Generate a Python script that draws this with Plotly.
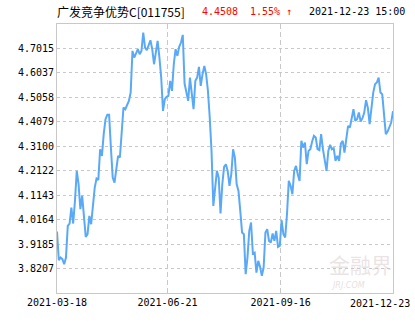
import plotly.graph_objects as go

# NAV values, one per trading day
nav = [
    3.9688, 3.8541, 3.8647, 3.8581, 3.8380, 3.8647, 3.9915, 4.0008, 4.0648, 4.0008,
    4.0915, 4.2116, 4.1582, 4.0582, 4.1115, 4.0115, 3.9474, 3.9581, 4.0315, 3.9981,
    4.0648, 4.1449, 4.1809, 4.1755, 4.2983, 4.2716, 4.3583, 4.4183, 4.4357, 4.4357,
    4.3049, 4.1849, 4.1649, 4.2249, 4.2716, 4.2649, 4.3583, 4.4650,
    4.4584, 4.4784, 4.4917, 4.5251, 4.6918, 4.6651, 4.6811, 4.6985, 4.6785, 4.6918,
    4.7652, 4.7051, 4.6945, 4.7185, 4.7345, 4.6985, 4.6384, 4.6851, 4.7318, 4.6651,
    4.5851, 4.4517, 4.4984, 4.5077, 4.5117, 4.5717, 4.5317, 4.6384, 4.6985,
    4.6718, 4.7078, 4.7252, 4.7558, 4.5611, 4.5317, 4.4917, 4.5851, 4.5117,
    4.4584,
    4.5717, 4.5851, 4.6278, 4.5517, 4.5984, 4.6318, 4.5984, 4.5317,
    4.4250, 4.2916, 4.0715, 4.1449, 4.2116, 4.1849, 4.0408, 4.1582, 4.2276, 4.2382,
    4.2116, 4.1515, 4.1982, 4.2983, 4.2649, 4.1582, 4.1315, 4.0515, 3.9648,
    3.9581, 3.7980, 3.8647, 3.9714, 4.0048, 3.8807, 3.8847,
    3.8047, 3.8514, 3.8274,
    3.7914, 3.8247, 3.9648, 3.9781, 3.9314, 3.9248, 3.9608, 3.9314, 3.9714, 3.9074,
    3.9114, 4.0141, 3.9581, 3.9448, 4.0381, 4.1715, 4.1515, 4.1182, 4.2116, 4.2316,
    4.1982, 4.1715, 4.3316, 4.3049, 4.3250, 4.2382, 4.2916, 4.2983,
    4.3290, 4.3516, 4.3450, 4.2983, 4.2943, 4.3583, 4.2983, 4.2583, 4.2116, 4.2916,
    4.3156,
    4.2983, 4.3023, 4.2516, 4.2716, 4.2516, 4.3210, 4.3316, 4.2849,
    4.3383, 4.3917, 4.3850, 4.4183, 4.4584, 4.4117, 4.4183, 4.4450, 4.4090, 4.4223,
    4.4450, 4.4944, 4.4650, 4.3983, 4.4650, 4.5251, 4.5584, 4.5651, 4.5851,
    4.5251, 4.5184, 4.4410, 4.3583, 4.3690, 4.3850, 4.4050, 4.4508,
]
days = list(range(len(nav)))

y_ticks = [3.8207, 3.9185, 4.0164, 4.1143, 4.2122, 4.3100, 4.4079, 4.5058, 4.6037, 4.7015]
y_range = [3.7228, 4.7994]
date_tick_pos = [0, 61.5, 124.5]
date_tick_text = ["2021-03-18", "2021-06-21", "2021-09-16"]
last_date = "2021-12-23"

title_name = "广发竞争优势C[011755]"
title_nav = "4.4508"
title_chg = "1.55% ↑"
title_time = "2021-12-23 15:00"

mono = "DejaVu Sans Mono"

fig = go.Figure()
fig.add_trace(go.Scatter(
    x=days, y=nav, mode="lines",
    line=dict(color="#5aa9f7", width=2),
    hoverinfo="skip", showlegend=False,
))

fig.update_layout(
    width=415, height=330,
    margin=dict(l=57, r=22, t=24, b=37),
    paper_bgcolor="white", plot_bgcolor="white",
    showlegend=False,
    xaxis=dict(
        range=[0, len(nav) - 1],
        tickmode="array", tickvals=date_tick_pos, ticktext=date_tick_text,
        showgrid=True, gridcolor="#c8c8c8", griddash="5px,3px", gridwidth=1,
        showline=True, mirror=True, linecolor="#c8c8c8", linewidth=1,
        zeroline=False, ticks="", ticklen=0,
        tickfont=dict(family=mono, size=10, color="#000"),
    ),
    yaxis=dict(
        range=y_range,
        tickmode="array", tickvals=y_ticks, ticktext=[f"{v:.4f}" for v in y_ticks],
        showgrid=True, gridcolor="#c8c8c8", griddash="3px,3px", gridwidth=1,
        showline=True, mirror=True, linecolor="#c8c8c8", linewidth=1,
        zeroline=False, ticks="", ticklen=0,
        tickfont=dict(family=mono, size=10, color="#000"),
    ),
    annotations=[
        dict(text=last_date, xref="x", yref="paper", x=len(nav) - 1, y=0,
             xanchor="right", yanchor="top", xshift=19, yshift=-3, showarrow=False,
             font=dict(family=mono, size=10, color="#000")),
        dict(text=title_name, xref="paper", yref="paper", x=-0.006, y=1.045,
             xanchor="left", yanchor="middle", showarrow=False,
             font=dict(family="Noto Sans CJK SC", size=12, color="#000")),
        dict(text=title_nav, xref="paper", yref="paper", x=0.426, y=1.045,
             xanchor="left", yanchor="middle", showarrow=False,
             font=dict(family=mono, size=10, color="#ff0000")),
        dict(text=title_chg, xref="paper", yref="paper", x=0.569, y=1.045,
             xanchor="left", yanchor="middle", showarrow=False,
             font=dict(family=mono, size=10, color="#ff0000")),
        dict(text=title_time, xref="paper", yref="paper", x=0.745, y=1.045,
             xanchor="left", yanchor="middle", showarrow=False,
             font=dict(family=mono, size=10, color="#000")),
        dict(text="金融界", xref="paper", yref="paper", x=0.805, y=0.045,
             xanchor="left", yanchor="bottom", showarrow=False,
             font=dict(family="Noto Sans CJK SC", size=21, color="rgba(215,200,200,0.5)")),
        dict(text="<i>JRJ.COM</i>", xref="paper", yref="paper", x=0.81, y=0.005,
             xanchor="left", yanchor="bottom", showarrow=False,
             font=dict(family="DejaVu Sans", size=8, color="rgba(215,200,200,0.6)")),
    ],
)

fig.write_html("out.html")
